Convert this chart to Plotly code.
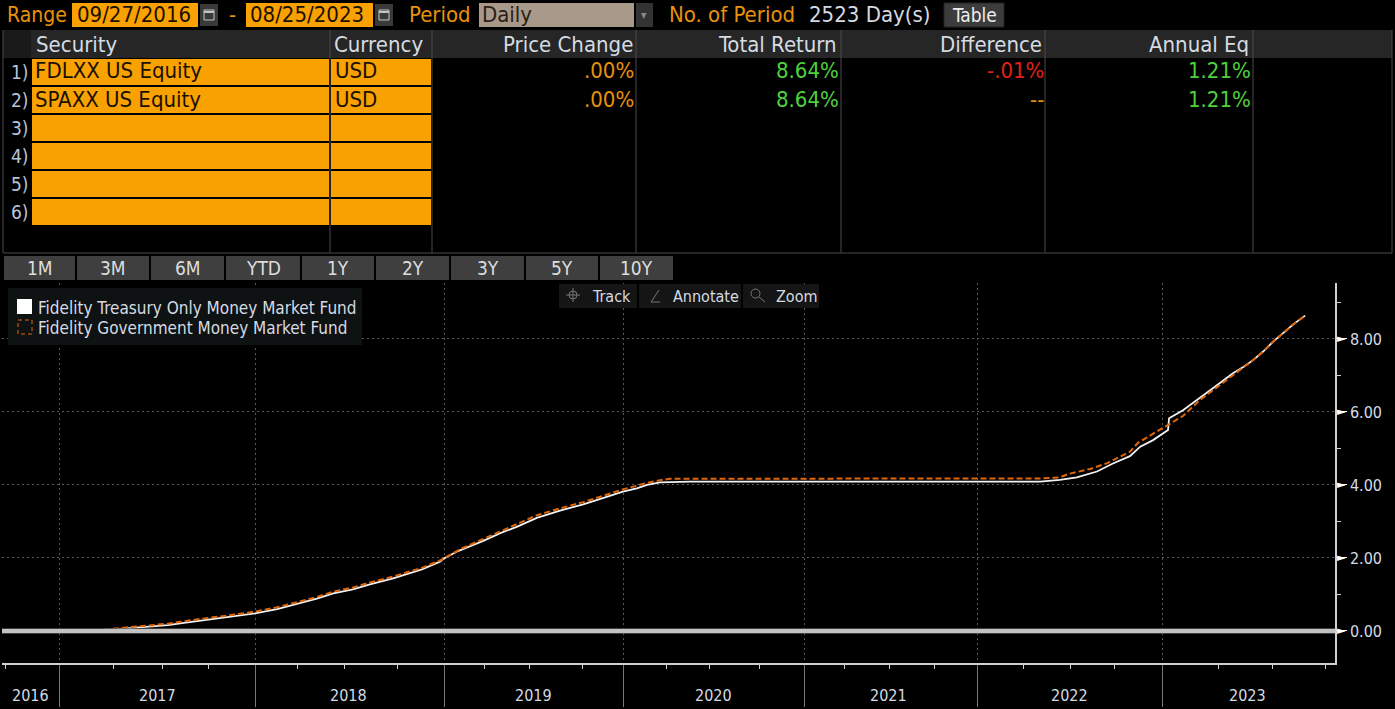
import plotly.graph_objects as go

W, H = 1395, 709

# --- Data ---
# x is the period number (2523 periods in the range)
treasury_period = [0, 107, 184, 223, 291, 316, 340, 378, 431, 485, 528, 572, 605, 637, 675, 708, 753, 809, 844, 850,
                   879, 928, 961, 994, 1032, 1077, 1122, 1160, 1199, 1226, 1246, 1271, 1329, 2009, 2047, 2080, 2119,
                   2150, 2183, 2203, 2228, 2257, 2259, 2286, 2305, 2344, 2383, 2403, 2422, 2441, 2461, 2500, 2523]
treasury_return = [0, 0, 0.02, 0.06, 0.12, 0.16, 0.21, 0.28, 0.375, 0.485, 0.6, 0.76, 0.885, 1.03, 1.14, 1.28, 1.44,
                   1.69, 1.9, 1.97, 2.19, 2.47, 2.68, 2.86, 3.1, 3.3, 3.47, 3.64, 3.82, 3.91, 4.0, 4.07, 4.09, 4.09,
                   4.14, 4.21, 4.37, 4.59, 4.79, 5.05, 5.23, 5.51, 5.83, 6.05, 6.24, 6.65, 7.06, 7.23, 7.42, 7.65, 7.93,
                   8.4, 8.64]

government_period = [0, 107, 184, 223, 291, 316, 340, 378, 431, 485, 528, 572, 605, 637, 675, 708, 753, 809, 844, 883,
                     928, 961, 994, 1032, 1077, 1122, 1160, 1199, 1226, 1246, 1271, 1290, 2009, 2047, 2063, 2106, 2139,
                     2183, 2199, 2228, 2257, 2286, 2319, 2358, 2383, 2403, 2422, 2441, 2461, 2500, 2523]
government_return = [0, 0, 0.03, 0.08, 0.16, 0.2, 0.25, 0.33, 0.42, 0.53, 0.65, 0.81, 0.93, 1.08, 1.19, 1.33, 1.49,
                     1.73, 1.93, 2.24, 2.52, 2.74, 2.93, 3.17, 3.36, 3.53, 3.7, 3.88, 3.98, 4.06, 4.13, 4.17, 4.18,
                     4.21, 4.3, 4.44, 4.6, 4.91, 5.16, 5.4, 5.64, 5.89, 6.33, 6.74, 7.01, 7.2, 7.42, 7.65, 7.93, 8.4, 8.64]

year_labels = ['2016', '2017', '2018', '2019', '2020', '2021', '2022', '2023']
year_label_period = [50, 295, 667, 1025, 1375, 1715, 2065, 2412]
year_start_period = [105, 485, 852, 1201, 1551, 1888, 2247]
quarter_period = [0, 210, 305, 394, 567, 658, 761, 931, 1017, 1120, 1283, 1368, 1465, 1630, 1717, 1803, 1976, 2067,
                  2154, 2354, 2459, 2563]

y_major = [0, 2, 4, 6, 8]
y_major_text = ['0.00', '2.00', '4.00', '6.00', '8.00']
y_minor = [1, 3, 5, 7, 9]

securities = ['FDLXX US Equity', 'SPAXX US Equity']
currencies = ['USD', 'USD']
price_change = ['.00%', '.00%']
total_return = ['8.64%', '8.64%']
difference = ['-.01%', '--']
annual_eq = ['1.21%', '1.21%']
presets = ['1M', '3M', '6M', 'YTD', '1Y', '2Y', '3Y', '5Y', '10Y']

# --- Styles ---
FONT = 'DejaVu Sans Condensed, Arial'
ORANGE = '#f9a100'
LABEL = '#e8920c'
PALE = '#d5dbe3'
RULE = '#4a4a4a'

shapes = []
notes = []


def px(x):
    return x / W


def py(y):
    return 1 - y / H


def box(x0, y0, x1, y1, fill, line=None, layer='above'):
    shapes.append(dict(type='rect', xref='paper', yref='paper', x0=px(x0), x1=px(x1), y0=py(y0), y1=py(y1),
                       fillcolor=fill, line=dict(color=line or fill, width=1 if line else 0), layer=layer))


def rule(x0, y0, x1, y1, color=RULE, width=1):
    shapes.append(dict(type='line', xref='paper', yref='paper', x0=px(x0), x1=px(x1), y0=py(y0), y1=py(y1),
                       line=dict(color=color, width=width), layer='above'))


def ring(x0, y0, x1, y1, color):
    shapes.append(dict(type='circle', xref='paper', yref='paper', x0=px(x0), x1=px(x1), y0=py(y0), y1=py(y1),
                       line=dict(color=color, width=1), layer='above'))


def label(x, y, text, color=PALE, size=22, anchor='left'):
    notes.append(dict(xref='paper', yref='paper', x=px(x), y=py(y), text=text, showarrow=False, xanchor=anchor,
                      yanchor='middle', font=dict(family=FONT, size=size, color=color), borderpad=0))


# --- Top control strip ---
label(6, 15, 'Range', LABEL, size=21)
box(72, 3, 198, 27, ORANGE)
label(76, 15, '09/27/2016', '#1a1000')
box(200, 4, 218, 26, '#3a3a3a')
label(233, 15, '-', LABEL, anchor='center')
box(246, 3, 373, 27, ORANGE)
label(249, 15, '08/25/2023', '#1a1000')
box(375, 4, 393, 26, '#3a3a3a')
for cal_x in (209, 384):
    box(cal_x - 5, 10, cal_x + 5, 20, '#3a3a3a', '#c4c4c4')
    rule(cal_x - 5, 12, cal_x + 5, 12, '#c4c4c4', 2)
label(408, 15, 'Period', LABEL)
box(479, 3, 634, 27, '#a8998a')
label(481, 15, 'Daily', '#2a2018')
box(636, 3, 653, 27, '#333333')
label(644, 15, '▾', '#888888', size=12, anchor='center')
label(668, 15, 'No. of Period', LABEL)
label(808, 15, '2523 Day(s)', PALE)
box(944, 3, 1004, 27, '#3c3c3c', '#222222')
label(974, 15, 'Table', '#eeeeee', size=19, anchor='center')

# --- Security table ---
columns = [31, 330, 432, 636, 841, 1045, 1253]
box(3, 30, 1392, 58, '#262626')
box(3, 30, 31, 58, '#1a1a1a')
rule(3, 30, 3, 253)
rule(1392, 30, 1392, 253)
rule(3, 253, 1392, 253)
for col in columns[1:]:
    rule(col, 30, col, 253)
label(35, 44, 'Security')
label(333, 44, 'Currency')
label(634, 44, 'Price Change', anchor='right')
label(838, 44, 'Total Return', anchor='right')
label(1043, 44, 'Difference', anchor='right')
label(1250, 44, 'Annual Eq', anchor='right')

row_tops = [59, 87, 115, 143, 171, 199]
for i, top in enumerate(row_tops):
    box(32, top, 329, top + 26, ORANGE)
    box(331, top, 431, top + 26, ORANGE)
    label(30, top + 13, f'{i + 1})', '#b8c4d8', size=19, anchor='right')
for i in range(len(securities)):
    mid = row_tops[i] + 12
    label(34, mid, securities[i], '#1a1000')
    label(334, mid, currencies[i], '#1a1000')
    label(635, mid, price_change[i], LABEL, anchor='right')
    label(840, mid, total_return[i], '#4fd13c', anchor='right')
    label(1045, mid, difference[i], '#e0201a' if difference[i].startswith('-.') else LABEL, anchor='right')
    label(1252, mid, annual_eq[i], '#4fd13c', anchor='right')

# --- Range buttons ---
button_edges = [4, 77, 151, 226, 302, 376, 451, 526, 600, 675]
for i, name in enumerate(presets):
    box(button_edges[i], 256, button_edges[i + 1] - 2, 280, '#3f3f3f')
    label((button_edges[i] + button_edges[i + 1] - 2) / 2, 268, name, '#dddddd', size=19, anchor='center')

# --- Chart toolbar ---
box(559, 284, 637, 308, '#151515')
box(639, 284, 741, 308, '#151515')
box(743, 284, 819, 308, '#151515')
ring(569, 291, 577, 299, '#777777')
rule(573, 288, 573, 302, '#777777')
rule(566, 295, 580, 295, '#777777')
rule(651, 302, 659, 290, '#777777')
rule(651, 302, 660, 302, '#777777')
ring(751, 289, 760, 298, '#777777')
rule(759, 297, 765, 302, '#777777')
label(591, 296, 'Track', PALE, size=16)
label(672, 296, 'Annotate', PALE, size=16)
label(775, 296, 'Zoom', PALE, size=16)

# --- Legend box ---
box(8, 288, 362, 345, '#0f1212')
box(17, 299, 32, 314, '#ffffff')
shapes.append(dict(type='rect', xref='paper', yref='paper', x0=px(18), x1=px(32), y0=py(320), y1=py(334),
                   line=dict(color='#e0660a', width=1, dash='4px,3px'), layer='above'))
label(37, 308, 'Fidelity Treasury Only Money Market Fund', PALE, size=17)
label(37, 328, 'Fidelity Government Money Market Fund', PALE, size=17)

# --- Zero line sits over the series ---
for band, color in ((5.5, '#555555'), (4, '#c2c2c2')):
    shapes.append(dict(type='line', xref='x domain', yref='y', x0=0, x1=1, y0=0, y1=0,
                       line=dict(color=color, width=band), layer='above'))

# --- Year labels ---
for name, period in zip(year_labels, year_label_period):
    notes.append(dict(xref='x', yref='paper', x=period, y=py(695), text=name, showarrow=False, xanchor='center',
                      yanchor='middle', font=dict(family=FONT, size=16, color=PALE)))

# --- Arrow heads on the value axis ---
for value in y_major:
    notes.append(dict(xref='paper', yref='y', x=px(1341), y=value, text='►', showarrow=False, xanchor='center',
                      yanchor='middle', font=dict(family='DejaVu Sans', size=11, color='#ffffff')))

fig = go.Figure()
fig.add_trace(go.Scatter(x=treasury_period, y=treasury_return, mode='lines', name='Fidelity Treasury Only Money Market Fund',
                         line=dict(color='#f2f2f2', width=1.8)))
fig.add_trace(go.Scatter(x=government_period, y=government_return, mode='lines', name='Fidelity Government Money Market Fund',
                         line=dict(color='#e0660a', width=2, dash='6px,3px')))

fig.update_layout(
    width=W, height=H, showlegend=False, paper_bgcolor='#000000', plot_bgcolor='#000000',
    margin=dict(l=0, r=0, t=0, b=0, pad=0), shapes=shapes, annotations=notes,
    font=dict(family=FONT, color=PALE),
    xaxis=dict(domain=[px(2), px(1335)], range=[-6, 2581], tickmode='array', tickvals=year_start_period, ticktext=[''] * 7,
               ticks='outside', ticklen=42, tickcolor='#777777', tickwidth=1, showgrid=True, gridcolor='#5a5a5a',
               griddash='2px,3px', gridwidth=1, zeroline=False, showline=True, linecolor='#d0d0d0', linewidth=1.5,
               minor=dict(tickmode='array', tickvals=quarter_period, ticks='outside', ticklen=4, tickcolor='#d0d0d0',
                          tickwidth=1, showgrid=False)),
    yaxis=dict(domain=[py(663), py(283)], range=[-0.877, 9.534], side='right', tickmode='array', tickvals=y_major,
               ticktext=y_major_text, ticks='outside', ticklen=10, tickcolor='#ffffff', tickwidth=1,
               tickfont=dict(family=FONT, size=16, color=PALE), showgrid=True, gridcolor='#5a5a5a', griddash='2px,3px',
               gridwidth=1, zeroline=False, showline=True, linecolor='#d0d0d0', linewidth=1.5,
               minor=dict(tickmode='array', tickvals=y_minor, ticks='outside', ticklen=4, tickcolor='#d0d0d0',
                          tickwidth=1, showgrid=False)),
)

fig.write_html('out.html', config={'displayModeBar': False},
               post_script="document.body.style.margin='0';document.body.style.overflow='hidden';")
